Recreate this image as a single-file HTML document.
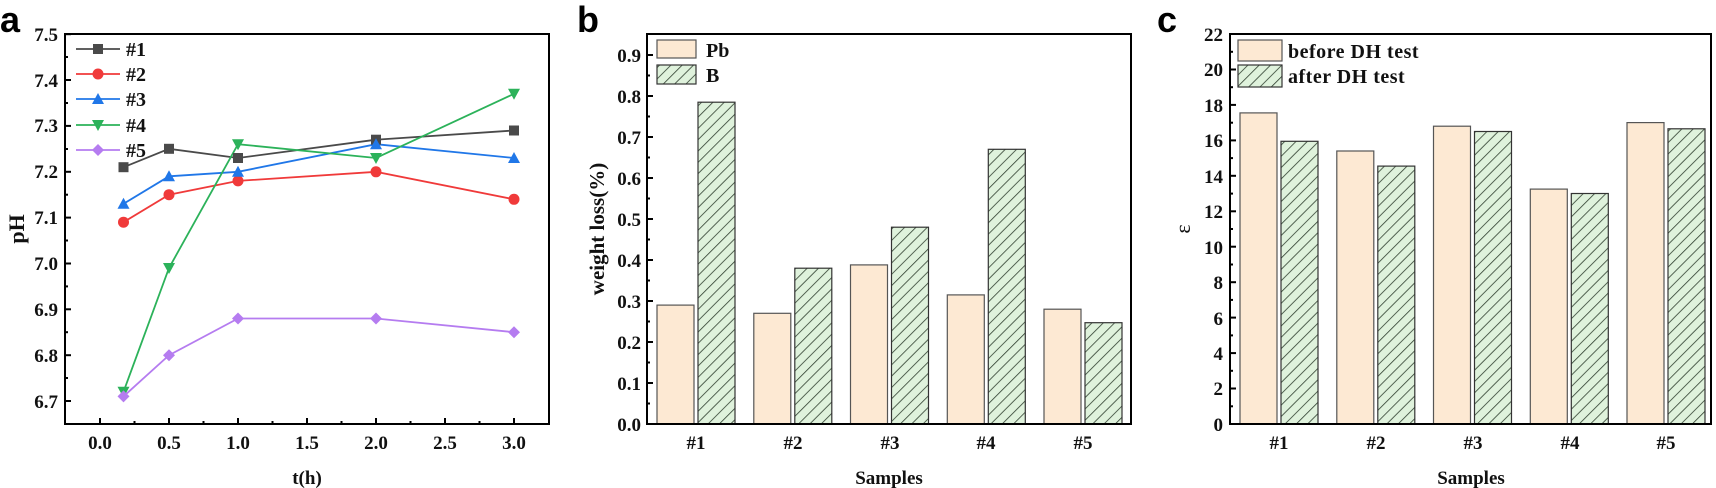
<!DOCTYPE html>
<html><head><meta charset="utf-8"><style>
html,body{margin:0;padding:0;background:#fff;}
svg{display:block;}
.t{font-family:"Liberation Serif",serif;font-weight:bold;font-size:19px;fill:#111;}
.L{font-family:"Liberation Sans",sans-serif;font-weight:bold;font-size:36px;fill:#000;}
</style></head><body>
<svg width="1716" height="488" viewBox="0 0 1716 488" xmlns="http://www.w3.org/2000/svg">
<defs>
<pattern id="h" patternUnits="userSpaceOnUse" width="8" height="8" patternTransform="rotate(45)">
<rect width="8" height="8" fill="#dff2dc"/>
<line x1="0" y1="0" x2="0" y2="8" stroke="#2f3f2f" stroke-width="1.6"/>
</pattern>
</defs>

<!-- Panel a -->
<text class="L" x="0" y="32">a</text>
<rect x="65" y="34" width="484" height="390" fill="none" stroke="#000" stroke-width="2"/>
<g stroke="#000" stroke-width="2">
<line x1="65" y1="34.2" x2="71" y2="34.2"/><line x1="65" y1="80" x2="71" y2="80"/><line x1="65" y1="125.9" x2="71" y2="125.9"/><line x1="65" y1="171.8" x2="71" y2="171.8"/><line x1="65" y1="217.6" x2="71" y2="217.6"/><line x1="65" y1="263.5" x2="71" y2="263.5"/><line x1="65" y1="309.3" x2="71" y2="309.3"/><line x1="65" y1="355.2" x2="71" y2="355.2"/><line x1="65" y1="401" x2="71" y2="401"/>
<line x1="65" y1="57" x2="68" y2="57"/><line x1="65" y1="103" x2="68" y2="103"/><line x1="65" y1="149" x2="68" y2="149"/><line x1="65" y1="194.7" x2="68" y2="194.7"/><line x1="65" y1="240.5" x2="68" y2="240.5"/><line x1="65" y1="286.4" x2="68" y2="286.4"/><line x1="65" y1="332.2" x2="68" y2="332.2"/><line x1="65" y1="378" x2="68" y2="378"/>
<line x1="100" y1="424" x2="100" y2="418"/><line x1="169" y1="424" x2="169" y2="418"/><line x1="238" y1="424" x2="238" y2="418"/><line x1="307" y1="424" x2="307" y2="418"/><line x1="376" y1="424" x2="376" y2="418"/><line x1="445" y1="424" x2="445" y2="418"/><line x1="514" y1="424" x2="514" y2="418"/>
<line x1="134.5" y1="424" x2="134.5" y2="421"/><line x1="203.5" y1="424" x2="203.5" y2="421"/><line x1="272.5" y1="424" x2="272.5" y2="421"/><line x1="341.5" y1="424" x2="341.5" y2="421"/><line x1="410.5" y1="424" x2="410.5" y2="421"/><line x1="479.5" y1="424" x2="479.5" y2="421"/>
</g>
<g class="t" text-anchor="end">
<text x="58" y="41">7.5</text><text x="58" y="87">7.4</text><text x="58" y="132">7.3</text><text x="58" y="178">7.2</text><text x="58" y="224">7.1</text><text x="58" y="270">7.0</text><text x="58" y="316">6.9</text><text x="58" y="362">6.8</text><text x="58" y="408">6.7</text>
</g>
<g class="t" text-anchor="middle">
<text x="100" y="449">0.0</text><text x="169" y="449">0.5</text><text x="238" y="449">1.0</text><text x="307" y="449">1.5</text><text x="376" y="449">2.0</text><text x="445" y="449">2.5</text><text x="514" y="449">3.0</text>
<text x="307" y="484">t(h)</text>
<text transform="translate(24,229) rotate(-90)" style="font-size:22px">pH</text>
</g>
<g fill="none" stroke-width="1.8">
<polyline stroke="#4a4a4a" points="123.5,167.2 169,148.8 238,158 376,139.7 514,130.5"/>
<polyline stroke="#f03a3a" points="123.5,222.2 169,194.7 238,180.9 376,171.8 514,199.3"/>
<polyline stroke="#2077e8" points="123.5,203.8 169,176.3 238,171.8 376,144.2 514,158"/>
<polyline stroke="#2cb25a" points="123.5,391.8 169,268 238,144.2 376,158 514,93.8"/>
<polyline stroke="#b57cf0" points="123.5,396.4 169,355.2 238,318.5 376,318.5 514,332.2"/>
</g>
<g fill="#4a4a4a"><rect x="118.5" y="162.2" width="10" height="10"/><rect x="164" y="143.8" width="10" height="10"/><rect x="233" y="153" width="10" height="10"/><rect x="371" y="134.7" width="10" height="10"/><rect x="509" y="125.5" width="10" height="10"/></g>
<g fill="#f03a3a"><circle cx="123.5" cy="222.2" r="5.5"/><circle cx="169" cy="194.7" r="5.5"/><circle cx="238" cy="180.9" r="5.5"/><circle cx="376" cy="171.8" r="5.5"/><circle cx="514" cy="199.3" r="5.5"/></g>
<g fill="#2077e8"><polygon points="123.5,197.8 129.5,208.8 117.5,208.8"/><polygon points="169,170.3 175,181.3 163,181.3"/><polygon points="238,165.8 244,176.8 232,176.8"/><polygon points="376,138.2 382,149.2 370,149.2"/><polygon points="514,152 520,163 508,163"/></g>
<g fill="#2cb25a"><polygon points="117.5,386.8 129.5,386.8 123.5,397.8"/><polygon points="163,263 175,263 169,274"/><polygon points="232,139.2 244,139.2 238,150.2"/><polygon points="370,153 382,153 376,164"/><polygon points="508,88.8 520,88.8 514,99.8"/></g>
<g fill="#b57cf0"><polygon points="123.5,390.4 129.5,396.4 123.5,402.4 117.5,396.4"/><polygon points="169,349.2 175,355.2 169,361.2 163,355.2"/><polygon points="238,312.5 244,318.5 238,324.5 232,318.5"/><polygon points="376,312.5 382,318.5 376,324.5 370,318.5"/><polygon points="514,326.2 520,332.2 514,338.2 508,332.2"/></g>
<g stroke-width="1.8">
<line x1="76" y1="49" x2="120" y2="49" stroke="#4a4a4a"/><rect x="93" y="44" width="10" height="10" fill="#4a4a4a"/>
<line x1="76" y1="74" x2="120" y2="74" stroke="#f03a3a"/><circle cx="98" cy="74" r="5.5" fill="#f03a3a"/>
<line x1="76" y1="99" x2="120" y2="99" stroke="#2077e8"/><polygon points="98,93 104,104 92,104" fill="#2077e8"/>
<line x1="76" y1="125" x2="120" y2="125" stroke="#2cb25a"/><polygon points="92,120 104,120 98,131" fill="#2cb25a"/>
<line x1="76" y1="150" x2="120" y2="150" stroke="#b57cf0"/><polygon points="98,144 104,150 98,156 92,150" fill="#b57cf0"/>
</g>
<g class="t" style="font-size:20px"><text x="126" y="56">#1</text><text x="126" y="81">#2</text><text x="126" y="106">#3</text><text x="126" y="132">#4</text><text x="126" y="157">#5</text></g>

<!-- Panel b -->
<text class="L" x="577" y="32">b</text>
<g stroke="#555" stroke-width="1.2">
<rect x="657" y="305.1" width="37" height="118.9" fill="#fde9d3"/>
<rect x="753.8" y="313.3" width="37" height="110.7" fill="#fde9d3"/>
<rect x="850.5" y="264.9" width="37" height="159.1" fill="#fde9d3"/>
<rect x="947.3" y="294.9" width="37" height="129.1" fill="#fde9d3"/>
<rect x="1044" y="309.2" width="37" height="114.8" fill="#fde9d3"/>
<rect x="698" y="102.2" width="37" height="321.8" fill="url(#h)" stroke="#333"/>
<rect x="794.8" y="268.2" width="37" height="155.8" fill="url(#h)" stroke="#333"/>
<rect x="891.5" y="227.2" width="37" height="196.8" fill="url(#h)" stroke="#333"/>
<rect x="988.3" y="149.3" width="37" height="274.7" fill="url(#h)" stroke="#333"/>
<rect x="1085" y="322.7" width="37" height="101.3" fill="url(#h)" stroke="#333"/>
<rect x="657" y="40" width="39" height="18" fill="#fde9d3"/>
<rect x="657" y="65" width="39" height="19" fill="url(#h)" stroke="#333"/>
</g>
<rect x="647" y="34" width="484" height="390" fill="none" stroke="#000" stroke-width="2"/>
<g stroke="#000" stroke-width="2">
<line x1="647" y1="383" x2="653" y2="383"/><line x1="647" y1="342" x2="653" y2="342"/><line x1="647" y1="301" x2="653" y2="301"/><line x1="647" y1="260" x2="653" y2="260"/><line x1="647" y1="219" x2="653" y2="219"/><line x1="647" y1="178" x2="653" y2="178"/><line x1="647" y1="137" x2="653" y2="137"/><line x1="647" y1="96" x2="653" y2="96"/><line x1="647" y1="55" x2="653" y2="55"/>
<line x1="647" y1="403.5" x2="650" y2="403.5"/><line x1="647" y1="362.5" x2="650" y2="362.5"/><line x1="647" y1="321.5" x2="650" y2="321.5"/><line x1="647" y1="280.5" x2="650" y2="280.5"/><line x1="647" y1="239.5" x2="650" y2="239.5"/><line x1="647" y1="198.5" x2="650" y2="198.5"/><line x1="647" y1="157.5" x2="650" y2="157.5"/><line x1="647" y1="116.5" x2="650" y2="116.5"/><line x1="647" y1="75.5" x2="650" y2="75.5"/>
</g>
<g class="t" text-anchor="end">
<text x="641" y="431">0.0</text><text x="641" y="390">0.1</text><text x="641" y="349">0.2</text><text x="641" y="308">0.3</text><text x="641" y="267">0.4</text><text x="641" y="226">0.5</text><text x="641" y="185">0.6</text><text x="641" y="144">0.7</text><text x="641" y="103">0.8</text><text x="641" y="62">0.9</text>
</g>
<g class="t" text-anchor="middle">
<text x="696" y="449">#1</text><text x="793" y="449">#2</text><text x="890" y="449">#3</text><text x="986" y="449">#4</text><text x="1083" y="449">#5</text>
<text x="889" y="484">Samples</text>
<text transform="translate(604,229) rotate(-90)" style="font-size:21px">weight loss(%)</text>
</g>
<g class="t" style="font-size:20px"><text x="706" y="57">Pb</text><text x="706" y="82">B</text></g>

<!-- Panel c -->
<text class="L" x="1157" y="32">c</text>
<g stroke="#555" stroke-width="1.2">
<rect x="1240" y="112.9" width="37" height="311.1" fill="#fde9d3"/>
<rect x="1336.8" y="151" width="37" height="273" fill="#fde9d3"/>
<rect x="1433.5" y="126.2" width="37" height="297.8" fill="#fde9d3"/>
<rect x="1530.3" y="189.1" width="37" height="234.9" fill="#fde9d3"/>
<rect x="1627" y="122.6" width="37" height="301.4" fill="#fde9d3"/>
<rect x="1281" y="141.3" width="37" height="282.7" fill="url(#h)" stroke="#333"/>
<rect x="1377.8" y="166.1" width="37" height="257.9" fill="url(#h)" stroke="#333"/>
<rect x="1474.5" y="131.5" width="37" height="292.5" fill="url(#h)" stroke="#333"/>
<rect x="1571.3" y="193.5" width="37" height="230.5" fill="url(#h)" stroke="#333"/>
<rect x="1668" y="128.8" width="37" height="295.2" fill="url(#h)" stroke="#333"/>
<rect x="1238" y="40" width="44" height="21" fill="#fde9d3"/>
<rect x="1238" y="65" width="44" height="22" fill="url(#h)" stroke="#333"/>
</g>
<rect x="1230" y="34" width="481" height="390" fill="none" stroke="#000" stroke-width="2"/>
<g stroke="#000" stroke-width="2">
<line x1="1230" y1="388.5" x2="1236" y2="388.5"/><line x1="1230" y1="353.1" x2="1236" y2="353.1"/><line x1="1230" y1="317.6" x2="1236" y2="317.6"/><line x1="1230" y1="282.2" x2="1236" y2="282.2"/><line x1="1230" y1="246.7" x2="1236" y2="246.7"/><line x1="1230" y1="211.3" x2="1236" y2="211.3"/><line x1="1230" y1="175.8" x2="1236" y2="175.8"/><line x1="1230" y1="140.4" x2="1236" y2="140.4"/><line x1="1230" y1="104.9" x2="1236" y2="104.9"/><line x1="1230" y1="69.5" x2="1236" y2="69.5"/>
<line x1="1230" y1="406.3" x2="1233" y2="406.3"/><line x1="1230" y1="370.8" x2="1233" y2="370.8"/><line x1="1230" y1="335.4" x2="1233" y2="335.4"/><line x1="1230" y1="299.9" x2="1233" y2="299.9"/><line x1="1230" y1="264.5" x2="1233" y2="264.5"/><line x1="1230" y1="229" x2="1233" y2="229"/><line x1="1230" y1="193.6" x2="1233" y2="193.6"/><line x1="1230" y1="158.1" x2="1233" y2="158.1"/><line x1="1230" y1="122.7" x2="1233" y2="122.7"/><line x1="1230" y1="87.2" x2="1233" y2="87.2"/><line x1="1230" y1="51.8" x2="1233" y2="51.8"/>
</g>
<g class="t" text-anchor="end">
<text x="1223" y="431">0</text><text x="1223" y="395">2</text><text x="1223" y="360">4</text><text x="1223" y="325">6</text><text x="1223" y="289">8</text><text x="1223" y="254">10</text><text x="1223" y="218">12</text><text x="1223" y="183">14</text><text x="1223" y="147">16</text><text x="1223" y="112">18</text><text x="1223" y="76">20</text><text x="1223" y="41">22</text>
</g>
<g class="t" text-anchor="middle">
<text x="1279" y="449">#1</text><text x="1376" y="449">#2</text><text x="1473" y="449">#3</text><text x="1570" y="449">#4</text><text x="1666" y="449">#5</text>
<text x="1471" y="484">Samples</text>
<text transform="translate(1190,229) rotate(-90)" style="font-weight:normal;font-size:22px">ε</text>
</g>
<g class="t" style="font-size:20px;letter-spacing:0.5px"><text x="1288" y="58">before DH test</text><text x="1288" y="83">after DH test</text></g>
</svg>
</body></html>
